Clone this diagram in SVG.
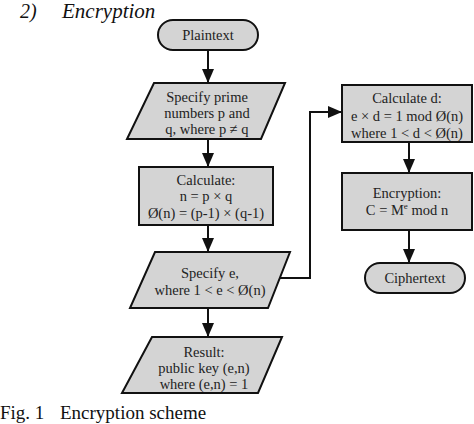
<svg xmlns="http://www.w3.org/2000/svg" width="474" height="424" viewBox="0 0 474 424">
<style>
.shape{fill:#d4d4d4;stroke:#111;stroke-width:2}
.t{font-family:"Liberation Serif","Times New Roman",serif;font-size:14.5px;fill:#222;text-anchor:middle}
.cap{font-family:"Liberation Serif","Times New Roman",serif;fill:#111}
.edge{fill:none;stroke:#111;stroke-width:2}
</style>
<defs>
<marker id="arr" viewBox="0 0 14 12" refX="14" refY="6" markerWidth="14" markerHeight="12" markerUnits="userSpaceOnUse" orient="auto">
<path d="M0,0 L14,6 L0,12 z" fill="#111"/>
</marker>
</defs>
<rect width="474" height="424" fill="#fff"/>
<text class="cap" x="20" y="18" font-size="20" font-style="italic">2)</text>
<text class="cap" x="62" y="18" font-size="21" font-style="italic">Encryption</text>

<g id="connectors">
<line class="edge" x1="208" y1="50" x2="208" y2="83" marker-end="url(#arr)"/>
<line class="edge" x1="208" y1="139" x2="208" y2="167" marker-end="url(#arr)"/>
<line class="edge" x1="208" y1="225" x2="208" y2="252" marker-end="url(#arr)"/>
<line class="edge" x1="208" y1="308" x2="208" y2="337" marker-end="url(#arr)"/>
<polyline class="edge" points="279,278 310,278 310,112 342,112" marker-end="url(#arr)"/>
<line class="edge" x1="409" y1="142" x2="409" y2="173" marker-end="url(#arr)"/>
<line class="edge" x1="409" y1="230" x2="409" y2="263" marker-end="url(#arr)"/>
</g>

<g id="plaintext">
<rect class="shape" x="158" y="20" width="100" height="30" rx="15"/>
<text class="t" x="208" y="40">Plaintext</text>
</g>

<g id="specify-pq">
<polygon class="shape" points="154,83 285,83 261,139 127,139"/>
<text class="t" x="207" y="102">Specify prime</text>
<text class="t" x="207" y="118">numbers p and</text>
<text class="t" x="207" y="134">q, where p ≠ q</text>
</g>

<g id="calculate-n">
<rect class="shape" x="139" y="167" width="134" height="58"/>
<text class="t" x="206" y="185">Calculate:</text>
<text class="t" x="206" y="201">n = p × q</text>
<text class="t" x="206" y="218">Ø(n) = (p-1) × (q-1)</text>
</g>

<g id="specify-e">
<polygon class="shape" points="155,252 290,252 268,308 130,308"/>
<text class="t" x="210" y="278">Specify e,</text>
<text class="t" x="210" y="295">where 1 &lt; e &lt; Ø(n)</text>
</g>

<g id="result">
<polygon class="shape" points="152,337 282,337 258,393 122,393"/>
<text class="t" x="204" y="357">Result:</text>
<text class="t" x="204" y="373">public key (e,n)</text>
<text class="t" x="204" y="389">where (e,n) = 1</text>
</g>

<g id="calculate-d">
<rect class="shape" x="342" y="85" width="130" height="57"/>
<text class="t" x="407" y="103">Calculate d:</text>
<text class="t" x="407" y="121">e × d = 1 mod Ø(n)</text>
<text class="t" x="407" y="138">where 1 &lt; d &lt; Ø(n)</text>
</g>

<g id="encryption">
<rect class="shape" x="342" y="173" width="130" height="57"/>
<text class="t" x="407" y="198">Encryption:</text>
<text class="t" x="407" y="215">C = M<tspan font-size="9" dy="-6">e</tspan><tspan dy="6"> mod n</tspan></text>
</g>

<g id="ciphertext">
<rect class="shape" x="365" y="263" width="100" height="30" rx="15"/>
<text class="t" x="415" y="283">Ciphertext</text>
</g>

<text class="cap" x="0" y="419" font-size="19">Fig. 1</text>
<text class="cap" x="60" y="419" font-size="19">Encryption scheme</text>
</svg>
